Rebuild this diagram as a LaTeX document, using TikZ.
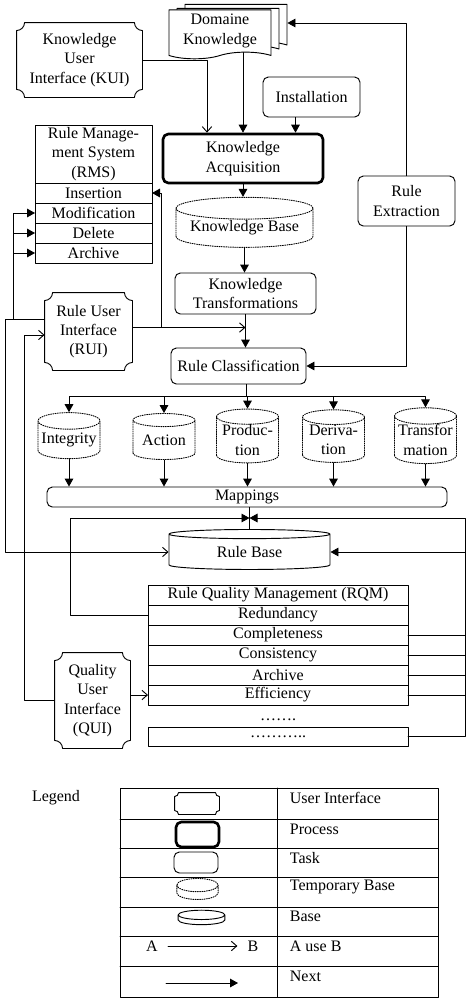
\documentclass[tikz,border=0pt]{standalone}
\usepackage{fontspec}
\setmainfont{Liberation Serif}
\usetikzlibrary{arrows.meta,positioning,shapes.geometric,shapes.symbols}

% frame with hollow corners for the user interfaces
\newcommand{\uiframe}[2][6pt]{%
  \draw ([xshift=#1]#2.north west) -- ([xshift=-#1]#2.north east)
    arc[start angle=180,end angle=270,radius=#1]
    -- ([yshift=#1]#2.south east)
    arc[start angle=90,end angle=180,radius=#1]
    -- ([xshift=#1]#2.south west)
    arc[start angle=0,end angle=90,radius=#1]
    -- ([yshift=-#1]#2.north west)
    arc[start angle=270,end angle=360,radius=#1] -- cycle;}

\begin{document}
\begin{tikzpicture}[line cap=round,line join=round,x=0.75pt,y=-0.75pt,line width=0.7pt,
  >={Triangle[length=6pt,width=6.5pt]},
  every node/.style={font=\fontsize{12}{14.5}\selectfont,align=center},
  nxt/.style={->},
  uses/.style={-{Straight Barb[length=4pt,width=7pt]}},
  task/.style={draw,rounded corners=4pt,inner sep=1pt},
  proc/.style={task,line width=2pt},
  ui/.style={inner sep=1pt},
  cell/.style={draw,inner sep=0pt,outer sep=0pt},
  rmsrow/.style={cell,minimum width=87.75pt,minimum height=15pt},
  rqmrow/.style={cell,minimum width=195pt,minimum height=15pt},
  rbase/.style={draw,cylinder,shape border rotate=90,inner sep=0pt},
  tbase/.style={rbase,densely dotted},
  doc/.style={draw,fill=white,tape,tape bend top=none,minimum width=76.5pt,minimum height=33pt}]
\useasboundingbox (0,0) rectangle (474,1004);

% knowledge side
\node[doc] (dk3) at (236,23) {};
\node[doc] (dk2) at (228,27) {};
\node[doc] (dk) at (220,31) {Domaine\\Knowledge};
\node[ui,minimum width=93.75pt,minimum height=55.5pt] (kui) at (79.5,60) {Knowledge\\User\\Interface (KUI)};
\uiframe{kui}
\node[task,minimum width=72.75pt,minimum height=30pt] (inst) at (311.5,97) {Installation};
\node[proc,minimum width=120pt,minimum height=36.75pt] (ka) at (243,158.5) {Knowledge\\Acquisition};
\node[task,minimum width=72.75pt,minimum height=37.5pt] (rex) at (406.5,201) {Rule\\Extraction};
\node[tbase,minimum width=102.75pt,minimum height=37.5pt,aspect=0.2] (kb) at (244.5,228) {Knowledge Base};
\node[task,minimum width=105.75pt,minimum height=30.75pt] (kt) at (245.5,293.5) {Knowledge\\Transformations};
\node[task,minimum width=101.25pt,minimum height=27pt] (rc) at (238.5,366) {Rule Classification};

% rule management system
\node[cell,minimum width=87.75pt,minimum height=43.5pt] (rms) at (93.5,154) {Rule Manage-\\ment System\\(RMS)};
\node[rmsrow,below=0pt of rms] (ins) {Insertion};
\node[rmsrow,below=0pt of ins] (mod) {Modification};
\node[rmsrow,below=0pt of mod] (del) {Delete};
\node[rmsrow,below=0pt of del] (rarch) {Archive};
\node[ui,minimum width=65.25pt,minimum height=57.75pt] (rui) at (88.5,331.5) {Rule User\\Interface\\(RUI)};
\uiframe{rui}

% rule categories
\foreach \n/\x/\t in {ci/69/Integrity,ca/164/Action,cp/247.5/{Produc-\\tion},cd/333.5/{Deriva-\\tion},ct/425.5/{Transfor\\mation}}
  \node[tbase,minimum width=46.5pt,minimum height=34.5pt,aspect=0.3] (\n) at (\x,440) {\t};
\node[task,minimum width=300pt,minimum height=15pt,inner sep=0pt] (map) at (247,497) {Mappings};
\node[rbase,minimum width=120.75pt,minimum height=30pt,aspect=0.14] (rb) at (249.5,552) {Rule Base};

% rule quality management
\node[cell,minimum width=195pt,minimum height=15pt] (rqm) at (278,595) {Rule Quality Management (RQM)};
\node[rqmrow,below=0pt of rqm] (red) {Redundancy};
\node[rqmrow,below=0pt of red] (com) {Completeness};
\node[rqmrow,below=0pt of com] (con) {Consistency};
\node[rqmrow,below=0pt of con] (qarch) {Archive};
\node[rqmrow,below=0pt of qarch] (eff) {Efficiency};
\node (qdots) at (278,720) {…….};
\node[rqmrow,minimum height=14.25pt] (qlast) at (278,736.5) {………..};
\node[ui,minimum width=56.25pt,minimum height=71.25pt] (qui) at (92.5,700.5) {Quality\\User\\Interface\\(QUI)};
\uiframe{qui}

% connectors
\draw[nxt] (rex.north) |- (dk3.east);
\draw[nxt] (rex.south) |- (rc.east);
\draw[uses] (kui.east) -| ([xshift=-27pt]ka.north);
\draw[nxt] (ka.north |- dk.south) -- (ka.north);
\draw[nxt] ([xshift=-12pt]inst.south) -- ([xshift=-12pt]inst.south |- ka.north);
\draw[nxt] (ka.south) -- (ka.south |- kb.north);
\draw[nxt] (kb.south) -- (kb.south |- kt.north);
\draw[nxt] (kt.south) -- (kt.south |- rc.north);
\draw[uses] ([yshift=3pt]rui.east) -- ([yshift=3pt]rui.east -| kt.south);
\draw[nxt] ([yshift=3pt]rui.east -| ka.west) |- (ins.east);
\draw[uses] ([yshift=9pt]rui.west) -- ++(-39,0) |- (rb.west);
\coordinate (rk) at (13,319.5);
\foreach \r in {mod,del,rarch} \draw[nxt] (rk) |- (\r.west);
\draw[uses] (qui.west) -- ++(-30,0) |- ([yshift=-2.6pt]rui.west);
\coordinate (rcb) at ([xshift=6pt,yshift=-9pt]rc.south);
\draw ([xshift=6pt]rc.south) -- (rcb);
\foreach \n in {ci,ca,cp,cd,ct}{
  \draw[nxt] (rcb) -| (\n.north);
  \draw[nxt] (\n.south) -- (\n.south |- map.north);
}
\draw (rb.north |- map.south) -- (rb.north);
\coordinate (mj) at (249.5,518);
\draw[nxt] (red.west) -| (70,518) -- (mj);
\draw[nxt] (qlast.east) -| (465,518) -- (mj);
\foreach \r in {com,con,qarch,eff} \draw (\r.east) -- (\r.east -| 465,0);
\draw[nxt] (rb.east -| 465,0) -- (rb.east);
\draw[uses] (qui.east |- eff.west) -- (eff.west);

% legend
\node (leg) at (56,798) {Legend};
\draw (120,788) rectangle (438,997);
\draw (277,788) -- (277,997);
\foreach \y in {819,848,877,907,936,966} \draw (120,\y) -- (438,\y);
\node[ui,minimum width=33pt,minimum height=15.75pt] (lui) at (197,803.5) {};
\uiframe[3pt]{lui}
\node[proc,minimum width=32.25pt,minimum height=18.75pt] (lproc) at (197.5,834.5) {};
\node[task,minimum width=33pt,minimum height=15.75pt] (ltask) at (196,862.5) {};
\node[tbase,text width=31pt,minimum height=15.75pt,aspect=0.32] (ltmp) at (197.5,892.5) {};
\node[rbase,text width=35pt,minimum height=10.5pt,aspect=0.2] (lbase) at (201.5,920) {};
\node (la) at (152,946) {A};
\node (lb) at (253,946) {B};
\draw[uses,shorten <=4pt,shorten >=4pt] (la) -- (lb);
\coordinate (ln1) at (166,983);
\coordinate (ln2) at (238,983);
\draw[nxt] (ln1) -- (ln2);
\foreach \y/\t in {798/User Interface,829/Process,858/Task,887/Temporary Base,916/Base,946/A use B,976/Next}
  \node[anchor=west] at (285,\y) {\t};
\end{tikzpicture}
\end{document}
